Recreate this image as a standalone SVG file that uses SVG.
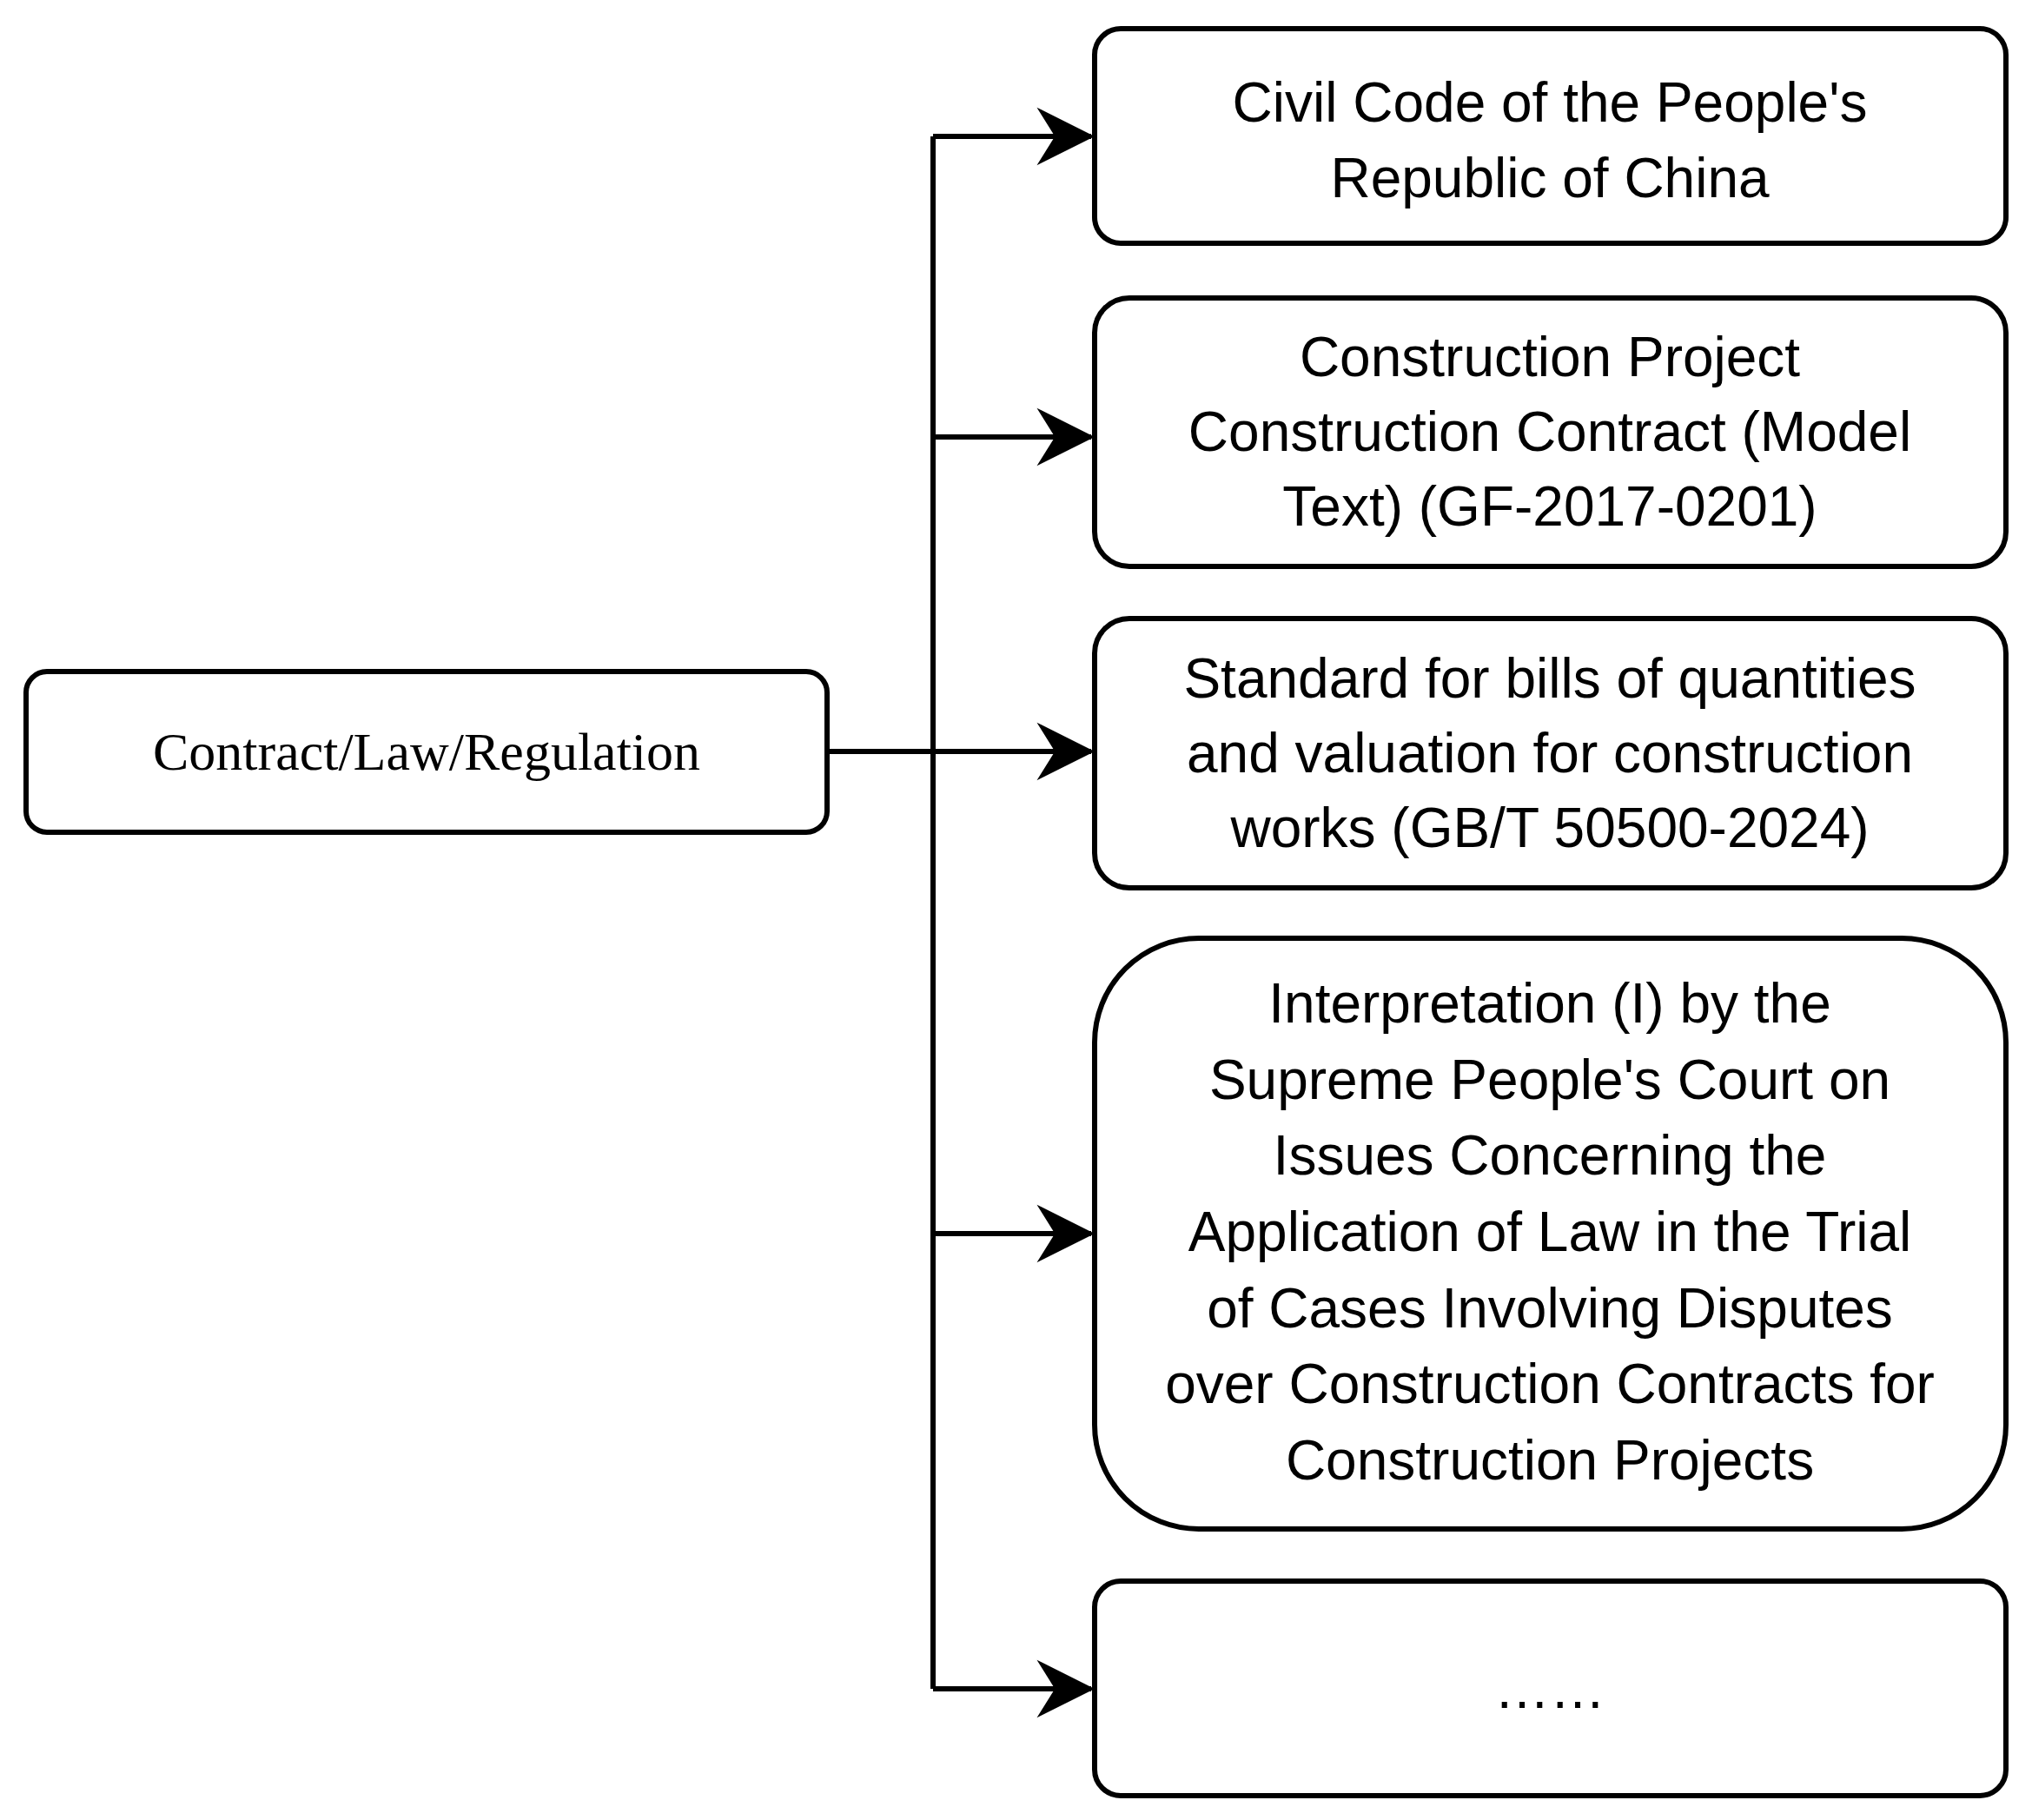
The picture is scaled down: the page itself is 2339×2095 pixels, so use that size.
<svg xmlns="http://www.w3.org/2000/svg" width="2339" height="2095" viewBox="0 0 2339 2095">
<style>
.b{fill:#fff;stroke:#000;stroke-width:6}
.t{font-family:"Liberation Sans",Arial,sans-serif;font-size:64px;text-anchor:middle;fill:#000}
.s{font-family:"Liberation Serif","Times New Roman",serif;font-size:62px;text-anchor:middle;fill:#000}
.c{fill:none;stroke:#000;stroke-width:6}
</style>
<defs><marker id="a" viewBox="0 0 20 20" refX="19" refY="10" markerWidth="10" markerHeight="10" markerUnits="userSpaceOnUse" orient="auto"><path d="M0,0 L20,10 L0,20 L5,10 Z" fill="#000"/></marker>
<marker id="m" viewBox="0 0 20 20" refX="18" refY="10" markerWidth="12" markerHeight="12" orient="auto" markerUnits="strokeWidth"><path d="M2,2 L18,10 L2,18 L7,10 Z" fill="#000" stroke="#000" stroke-width="1"/></marker></defs>
<rect width="2339" height="2095" fill="#fff"/>
<g id="connectors">
<path class="c" d="M952,865 H1074"/>
<path class="c" d="M1074,157 V1944"/>
<path class="c" d="M1074,157 H1256" marker-end="url(#m)"/>
<path class="c" d="M1074,503 H1256" marker-end="url(#m)"/>
<path class="c" d="M1074,865 H1256" marker-end="url(#m)"/>
<path class="c" d="M1074,1420 H1256" marker-end="url(#m)"/>
<path class="c" d="M1074,1944 H1256" marker-end="url(#m)"/>
</g>
<g id="root"><rect class="b" x="30" y="773" width="922" height="185" rx="24"/><text class="s" x="491" y="886">Contract/Law/Regulation</text></g>
<g id="n1"><rect class="b" x="1260" y="33" width="1049" height="247" rx="30"/><text class="t" x="1784" y="140">Civil Code of the People's</text><text class="t" x="1784" y="227">Republic of China</text></g>
<g id="n2"><rect class="b" x="1260" y="343" width="1049" height="309" rx="40"/><text class="t" x="1784" y="433">Construction Project</text><text class="t" x="1784" y="519">Construction Contract (Model</text><text class="t" x="1784" y="605">Text) (GF-2017-0201)</text></g>
<g id="n3"><rect class="b" x="1260" y="712" width="1049" height="310" rx="40"/><text class="t" x="1784" y="803">Standard for bills of quantities</text><text class="t" x="1784" y="889">and valuation for construction</text><text class="t" x="1784" y="975">works (GB/T 50500-2024)</text></g>
<g id="n4"><rect class="b" x="1260" y="1080" width="1049" height="680" rx="120"/>
<text class="t" x="1784" y="1177">Interpretation (I) by the</text>
<text class="t" x="1784" y="1265">Supreme People's Court on</text>
<text class="t" x="1784" y="1352">Issues Concerning the</text>
<text class="t" x="1784" y="1440">Application of Law in the Trial</text>
<text class="t" x="1784" y="1528">of Cases Involving Disputes</text>
<text class="t" x="1784" y="1615">over Construction Contracts for</text>
<text class="t" x="1784" y="1703">Construction Projects</text></g>
<g id="n5"><rect class="b" x="1260" y="1820" width="1049" height="247" rx="30"/><text class="t" x="1784" y="1966">……</text></g>
</svg>
